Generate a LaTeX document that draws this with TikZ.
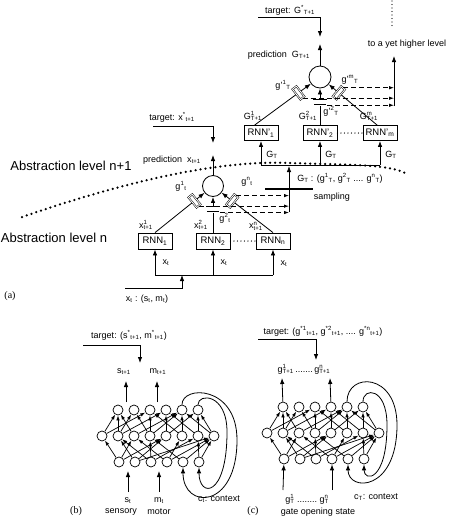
\documentclass[tikz,border=0pt]{standalone}
\usepackage{fontspec}
\setmainfont{Liberation Sans}
\newfontfamily\serifa{Liberation Serif}
\usetikzlibrary{arrows.meta,calc}
\newcommand\stkb[2]{\rlap{\textsuperscript{#1}}\textsubscript{#2}}
\newcommand\netw[3]{%
  \foreach \i in {1,...,6} {\node[neuron] (#1t\i) at ({#2+16*(\i-1)}, #3) {};}
  \foreach \i in {1,...,8} {\node[neuron] (#1m\i) at ({#2-16+16*(\i-1)}, {#3+26}) {};}
  \foreach \i in {1,...,6} {\node[neuron] (#1b\i) at ({#2+1+16*(\i-1)}, {#3+52}) {};}
  \foreach \p/\q in {1/1,1/3,2/2,2/4,3/1,3/5,4/2,4/3,5/4,5/6,6/3,6/5,7/4,7/6,8/6,8/5,2/1,4/5}
    {\draw[narr] (#1m\p) -- (#1t\q);}
  \foreach \p/\q in {1/1,1/3,2/2,2/5,3/4,3/2,4/3,4/6,5/8,5/4,6/7,6/8,1/5,3/7,2/8,4/8}
    {\draw[narr] (#1b\p) -- (#1m\q);}
}
\begin{document}
\begin{tikzpicture}[x=1pt,y=-1pt,
  lab/.style={font=\fontsize{9}{10}\selectfont, inner sep=0pt},
  rnn/.style={draw, line width=0.8pt, minimum width=34pt, minimum height=15pt, inner sep=0pt, font=\fontsize{9.5}{10}\selectfont},
  unit/.style={draw, circle, line width=0.8pt, minimum size=22pt, inner sep=0pt},
  gate/.style={draw, fill=white, line width=0.5pt, minimum width=13pt, minimum height=5pt, inner sep=0pt, double, double distance=0.8pt},
  arr/.style={-{Latex[length=6pt,width=4.5pt]}, line width=0.8pt},
  ln/.style={line width=0.8pt},
  dsh/.style={-{Latex[length=5pt,width=3.5pt]}, line width=0.8pt, dash pattern=on 5pt off 3pt},
  neuron/.style={draw, circle, line width=0.7pt, minimum size=10pt, inner sep=0pt, fill=white},
  narr/.style={-{Latex[length=5pt,width=3.5pt]}, line width=0.7pt},
  bigdot/.style={line width=2.5pt, dash pattern=on 0pt off 5pt, line cap=round},
  smalldot/.style={line width=1.3pt, dash pattern=on 0pt off 3.5pt, line cap=round},
]
\useasboundingbox (0,0) rectangle (474,520);

% ================= level n+1 =================
\node[unit] (C2) at (320,77) {};
\node[rnn] (R1p) at (261,133) {RNN'\textsubscript{1}};
\node[rnn] (R2p) at (320,133) {RNN'\textsubscript{2}};
\node[rnn] (Rmp) at (380,133) {RNN'\textsubscript{m}};
\draw[smalldot] (R2p.east) -- (Rmp.west);

\draw[arr] (R1p.129) -- (C2);
\draw[arr] (R2p) -- (C2);
\draw[arr] (Rmp.110) -- (C2);

\node[gate, rotate=-52.5] (G1p) at ($(R1p.129)!0.67!(C2)$) {};
\node[gate] (G2p) at ($(R2p.north)!0.47!(C2)$) {};
\node[gate, rotate=50] (Gmp) at ($(Rmp.110)!0.67!(C2)$) {};

\coordinate (V2top) at (394,56);
\coordinate (V2bot) at (394,106);
\draw[arr] (V2bot) -- (V2top);
\draw[dsh] (Gmp.east) -- (Gmp.east -| V2top);
\draw[dsh] (G1p.east) -- (G1p.east -| V2top);
\draw[dsh] (G2p.south east) -- (G2p.south east -| V2top);

\coordinate (D1) at (392,1);
\coordinate (D2) at (392,28);
\draw[smalldot] (D1) -- (D2);
\node[lab] (higher) at (407,44) {to a yet higher level};

\coordinate (T2s) at (258,17);
\coordinate (T2c) at (320,17);
\coordinate (T2e) at (320,37);
\draw[arr] (T2s) -- (T2c) -- (T2e);
\node[lab] (t2lab) at (290,10) {target: G\textsuperscript{*}\textsubscript{T+1}};
\coordinate (P2) at (320,44);
\draw[arr] (C2) -- (P2);
\node[lab] (p2lab) at (279,55) {prediction\ \ G\textsubscript{T+1}};

\node[lab] (lg1p) at (283,85) {g'\textsuperscript{1}\textsubscript{T}};
\node[lab] (lgmp) at (350,80) {g'\textsuperscript{m}\textsubscript{T}};
\node[lab] (lg2p) at (331,111) {g'\textsuperscript{2}\textsubscript{T}};
\node[lab] (lG1) at (253,116) {G\stkb{1}{T+1}};
\node[lab] (lG2) at (308,116) {G\stkb{2}{T+1}};
\node[lab] (lGm) at (369,116) {G\stkb{m}{T+1}};

\coordinate (GL1) at (261,165);
\coordinate (GL3) at (380,165);
\draw[ln] (GL1) -- (GL3);
\draw[arr] (GL1) -- (R1p);
\draw[arr] (R2p |- GL1) -- (R2p);
\draw[arr] (GL3) -- (Rmp);
\node[lab] (lGT1) at (272,155) {G\textsubscript{T}};
\node[lab] (lGT2) at (331,155) {G\textsubscript{T}};
\node[lab] (lGT3) at (391,155) {G\textsubscript{T}};

% ================= level n =================
\node[unit, minimum size=21pt] (C1) at (213,186) {};
\node[rnn, minimum height=16pt] (R1) at (155,241) {RNN\textsubscript{1}};
\node[rnn, minimum height=16pt] (R2) at (213,241) {RNN\textsubscript{2}};
\node[rnn, minimum height=16pt] (Rn) at (273,241) {RNN\textsubscript{n}};
\draw[smalldot] (R2.east) -- (Rn.west);

\draw[arr] (R1.north) -- (C1);
\draw[arr] (R2) -- (C1);
\draw[arr] (Rn.north) -- (C1);

\node[gate, rotate=-51] (G1) at ($(R1.north)!0.68!(C1)$) {};
\node[gate] (G2) at ($(R2.north)!0.49!(C1)$) {};
\node[gate, rotate=52] (Gn) at ($(Rn.north)!0.68!(C1)$) {};

\coordinate (V1top) at (289,166);
\coordinate (V1bot) at (289,212);
\draw[arr] (V1bot) -- (V1top);
\draw[dsh] (Gn.east) -- (Gn.east -| V1top);
\draw[dsh] (G1.east) -- (G1.east -| V1top);
\draw[dsh] (G2.south east) -- (G2.south east -| V1top);

\coordinate (S1) at (265,189);
\coordinate (S2) at (313,189);
\draw[line width=1.6pt] (S1) -- (S2);
\node[lab] (samp) at (332,197) {sampling};
\node[lab] (gtlab) at (340,178) {G\textsubscript{T} : (g\textsuperscript{1}\textsubscript{T}, g\textsuperscript{2}\textsubscript{T} .... g\textsuperscript{n}\textsubscript{T})};

\coordinate (T1s) at (153,126);
\coordinate (T1c) at (213,126);
\coordinate (T1e) at (213,143);
\draw[arr] (T1s) -- (T1c) -- (T1e);
\node[lab] (t1lab) at (172,117) {target: x\textsuperscript{*}\textsubscript{t+1}};
\coordinate (P1) at (213,155);
\draw[arr] (C1) -- (P1);
\node[lab] (p1lab) at (172,160) {prediction\ \ x\textsubscript{t+1}};

\node[lab] (lg1) at (181,186) {g\textsuperscript{1}\textsubscript{t}};
\node[lab] (lgn) at (247,182) {g\textsuperscript{n}\textsubscript{t}};
\node[lab] (lg2) at (225,218) {g\textsuperscript{2}\textsubscript{t}};
\node[lab] (lx1) at (146,225) {x\stkb{1}{t+1}};
\node[lab] (lx2) at (201,225) {x\stkb{2}{t+1}};
\node[lab] (lxn) at (256,226) {x\stkb{n}{t+1}};

\coordinate (IL1) at (155,275);
\coordinate (IL3) at (273,275);
\draw[ln] (IL1) -- (IL3);
\draw[arr] (IL1) -- (R1);
\draw[arr] (R2 |- IL1) -- (R2);
\draw[arr] (IL3) -- (Rn);
\node[lab] (lxt1) at (166,263) {x\textsubscript{t}};
\node[lab] (lxt2) at (224,263) {x\textsubscript{t}};
\node[lab] (lxt3) at (284,264) {x\textsubscript{t}};
\coordinate (IN0) at (125,288);
\coordinate (IN1) at (182,288);
\coordinate (IN2) at (182,275);
\draw[arr] (IN0) -- (IN1) -- (IN2);
\node[lab] (xtlab) at (147,299) {x\textsubscript{t} : (s\textsubscript{t}, m\textsubscript{t})};
\node[font=\serifa\fontsize{10}{11}\selectfont, inner sep=0pt] (la) at (10,296) {(a)};

% abstraction levels
\node[font=\fontsize{13}{14}\selectfont, inner sep=0pt] (lvl1) at (71,166) {Abstraction level n+1};
\node[font=\fontsize{13}{14}\selectfont, inner sep=0pt] (lvl0) at (54,238) {Abstraction level n};
\coordinate (B0) at (22,217);
\coordinate (B1) at (290,163);
\coordinate (B2) at (407,174);
\draw[bigdot] (B0) .. controls (130,180) and (220,160) .. (B1) .. controls (350,165) and (390,164) .. (B2);

% ================= panel (b) =================
\netw{b}{118}{410}
\coordinate (bTs) at (83,345);
\coordinate (bTc) at (140,345);
\coordinate (bTe) at (140,363);
\draw[arr] (bTs) -- (bTc) -- (bTe);
\node[lab] (btlab) at (129,335) {target: (s\textsuperscript{*}\textsubscript{t+1}, m\textsuperscript{*}\textsubscript{t+1})};
\node[lab] (bs1) at (124,372) {s\textsubscript{t+1}};
\node[lab] (bm1) at (158,372) {m\textsubscript{t+1}};
\coordinate (bo1a) at (126,402); \coordinate (bo1b) at (126,381);
\coordinate (bo2a) at (157,402); \coordinate (bo2b) at (157,381);
\draw[arr] (bo1a) -- (bo1b);
\draw[arr] (bo2a) -- (bo2b);
\coordinate (bi1a) at (128,492); \coordinate (bi1b) at (128,471);
\coordinate (bi2a) at (159,492); \coordinate (bi2b) at (159,471);
\draw[arr] (bi1a) -- (bi1b);
\draw[arr] (bi2a) -- (bi2b);
\draw[arr] (bt5.north) .. controls (182,385) and (237,385) .. (237,440) .. controls (237,510) and (183,510) .. (bb5.south);
\draw[arr] (bt6.north) .. controls (198,393) and (227,393) .. (227,432) .. controls (227,498) and (199,498) .. (bb6.south);
\node[lab] (bst) at (128,501) {s\textsubscript{t}};
\node[lab] (bmt) at (159,501) {m\textsubscript{t}};
\node[lab] (bct) at (219,499) {c\textsubscript{t}: context};
\node[lab] (bsen) at (121,512) {sensory};
\node[lab] (bmot) at (159,512) {motor};
\node[font=\serifa\fontsize{10}{11}\selectfont, inner sep=0pt] (lb) at (76,511) {(b)};

% ================= panel (c) =================
\netw{c}{283}{407}
\coordinate (cTs) at (258,339);
\coordinate (cTc) at (316,339);
\coordinate (cTe) at (316,360);
\draw[arr] (cTs) -- (cTc) -- (cTe);
\node[lab] (ctlab) at (323,331) {target: (g\textsuperscript{*1}\textsubscript{t+1}, g\textsuperscript{*2}\textsubscript{t+1}, .... g\textsuperscript{*n}\textsubscript{t+1})};
\node[lab] (cg1) at (304,369) {g\stkb{1}{T+1}\,.......\,g\stkb{n}{T+1}};
\coordinate (co1) at (282,378);
\coordinate (co2) at (330,378);
\draw[arr] (ct1) -- (co1);
\draw[arr] (ct4) -- (co2);
\coordinate (ci1) at (283,490);
\coordinate (ci2) at (332,490);
\draw[arr] (ci1) -- (cb1);
\draw[arr] (ci2) -- (cb4);
\draw[arr] (ct5.north) .. controls (347,372) and (397,372) .. (397,425) .. controls (397,492) and (348,492) .. (cb5.south);
\draw[arr] (ct6.north) .. controls (363,387) and (387,387) .. (387,425) .. controls (387,482) and (364,482) .. (cb6.south);
\node[lab] (cgt) at (307,499) {g\stkb{1}{T}\ ........\ g\stkb{n}{T}};
\node[lab] (cct) at (376,497) {c\textsubscript{T}: context};
\node[font=\serifa\fontsize{10}{11}\selectfont, inner sep=0pt] (lc) at (253,511) {(c)};
\node[lab] (cgate) at (318,512) {gate opening state};
\end{tikzpicture}
\end{document}
